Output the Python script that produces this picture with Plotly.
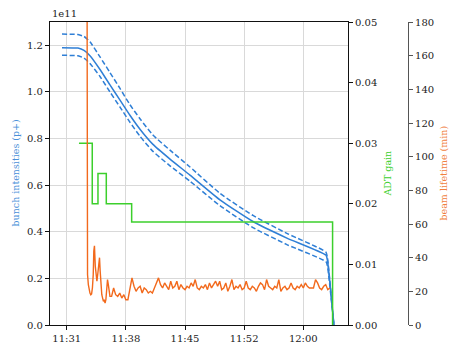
import plotly.graph_objects as go

# ---------------- data ----------------
# time in minutes after 11:00
tick_vals = [31, 38.25, 45.5, 52.75, 60]
tick_text = ["11:31", "11:38", "11:45", "11:52", "12:00"]

# bunch intensities (units of 1e11 p+)
int_t = [30.42, 32.38, 33.12, 33.85, 35.08, 36.30, 37.53, 38.75, 39.98, 41.57,
         43.66, 46.11, 49.78, 53.83, 57.99, 62.77, 62.95, 63.75]
int_mean = [1.19, 1.188, 1.178, 1.155, 1.096, 1.03, 0.965, 0.90, 0.84, 0.775,
            0.712, 0.643, 0.537, 0.444, 0.373, 0.30, 0.28, 0.0]
int_upper = [1.248, 1.246, 1.238, 1.215, 1.15, 1.083, 1.015, 0.945, 0.885, 0.815,
             0.75, 0.678, 0.565, 0.47, 0.393, 0.313, 0.29, 0.0]
int_lower = [1.157, 1.155, 1.145, 1.122, 1.066, 1.0, 0.935, 0.87, 0.81, 0.745,
             0.683, 0.617, 0.512, 0.418, 0.345, 0.272, 0.255, 0.0]

# ADT gain (step)
adt_t = [32.50, 34.13, 34.83, 35.85, 38.96, 63.59]
adt_gain = [0.03, 0.02, 0.025, 0.02, 0.017, 0.0]

# beam lifetime (min)
life_t_early = [33.36, 33.50, 33.55, 33.65, 33.75, 33.85, 33.95, 34.05, 34.15, 34.25,
                34.32, 34.40, 34.50, 34.60, 34.70, 34.80, 34.88, 34.95, 35.02, 35.10,
                35.20, 35.30, 35.40, 35.50, 35.60, 35.70, 35.80, 35.90, 36.00, 36.10,
                36.20, 36.30]
life_early = [600, 60, 30, 24, 20, 19, 18, 18.5, 22, 30,
              44, 47, 35, 28, 26, 30, 33, 38, 40, 32,
              22, 18, 16, 14, 15, 13, 15, 22, 27, 24,
              19, 17]
life_start = 36.5
life_step = 0.25
life_late = [17, 22, 18, 17, 19, 16, 18, 15, 15, 21,
             28, 23, 20, 22, 23, 19, 22, 21, 19, 20,
             19, 22, 25, 28, 24, 22, 25, 23, 21, 26,
             22, 23, 26, 21, 24, 22, 21, 23, 22, 25,
             23, 27, 22, 21, 23, 22, 24, 21, 25, 22,
             24, 26, 23, 26, 21, 22, 25, 20, 23, 27,
             21, 23, 22, 24, 21, 22, 26, 22, 21, 23,
             22, 20, 23, 25, 24, 21, 27, 23, 22, 21,
             23, 22, 27, 20, 22, 23, 21, 22, 25, 22,
             21, 23, 22, 24, 22, 25, 23, 22, 22, 22,
             27, 25, 22, 21, 23, 24, 21, 22]
life_t = life_t_early + [life_start + life_step * i for i in range(len(life_late))]
life = life_early + life_late

# ---------------- styles ----------------
BLUE = "#2f7fd6"
GREEN = "#3ccf2c"
ORANGE = "#f2691c"
FONT = "DejaVu Serif"

W, H = 474, 356
ml, mr, mt, mb = 50, 30, 22, 28
pw = W - ml - mr
dom_end = 298 / pw
pos3 = (408 - ml) / pw

fig = go.Figure()
for yy, dash in ((int_upper, "5px,2.5px"), (int_lower, "5px,2.5px"), (int_mean, "solid")):
    fig.add_trace(go.Scatter(x=int_t, y=yy, mode="lines",
                             line=dict(color=BLUE, width=1.5, dash=dash,
                                       shape="spline", smoothing=0.5),
                             yaxis="y"))
fig.add_trace(go.Scatter(x=adt_t, y=adt_gain, mode="lines", line_shape="hv",
                         line=dict(color=GREEN, width=1.5), yaxis="y2"))
fig.add_trace(go.Scatter(x=life_t, y=life, mode="lines",
                         line=dict(color=ORANGE, width=1.4), yaxis="y3"))

axfont = dict(family=FONT, size=10, color="#222")
fig.update_layout(
    width=W, height=H,
    margin=dict(l=ml, r=mr, t=mt, b=mb),
    paper_bgcolor="white", plot_bgcolor="white",
    showlegend=False,
    font=dict(family=FONT, size=10, color="#222"),
    xaxis=dict(domain=[0, dom_end], range=[28.95, 65.48],
               tickvals=tick_vals, ticktext=tick_text, tickfont=axfont,
               showgrid=True, gridcolor="#d9d9d9", gridwidth=1,
               showline=True, linecolor="#111", linewidth=1.2, mirror=True,
               ticks="outside", ticklen=4, tickcolor="#111", zeroline=False),
    yaxis=dict(range=[0, 1.3], dtick=0.2, tick0=0, tickformat=".1f", tickfont=axfont,
               showgrid=True, gridcolor="#d9d9d9", gridwidth=1,
               showline=True, linecolor="#111", linewidth=1.2, mirror=True,
               ticks="outside", ticklen=4, tickcolor="#111", zeroline=False),
    yaxis2=dict(overlaying="y", side="right", anchor="x", range=[0, 0.05],
                dtick=0.01, tick0=0, tickformat=".2f", tickfont=axfont,
                showgrid=False, showline=False, zeroline=False,
                ticks="outside", ticklen=4, tickcolor="#111"),
    yaxis3=dict(overlaying="y", side="right", anchor="free", position=pos3,
                range=[0, 180], dtick=20, tick0=0, tickfont=axfont,
                showgrid=False, showline=True, linecolor="#555", linewidth=1.2,
                zeroline=False, ticks="outside", ticklen=4, tickcolor="#555"),
    annotations=[
        dict(text="1e11", x=0, y=1, xref="paper", yref="paper", xanchor="left",
             yanchor="bottom", showarrow=False, yshift=1,
             font=dict(family=FONT, size=10, color="#222")),
        dict(text="bunch intensities (p+)", x=(15 - ml) / pw, y=0.5, xref="paper",
             yref="paper", textangle=-90, showarrow=False, xanchor="center",
             yanchor="middle", font=dict(family=FONT, size=9.5, color="#4a90d9")),
        dict(text="ADT gain", x=(387 - ml) / pw, y=0.5, xref="paper",
             yref="paper", textangle=-90, showarrow=False, xanchor="center",
             yanchor="middle", font=dict(family=FONT, size=9.5, color=GREEN)),
        dict(text="beam lifetime (min)", x=(443 - ml) / pw, y=0.5, xref="paper",
             yref="paper", textangle=-90, showarrow=False, xanchor="center",
             yanchor="middle", font=dict(family=FONT, size=9.5, color="#f08040")),
    ],
)

fig.write_html("out.html", config={"displayModeBar": False})

# remove the default browser body margin so the figure sits at the window origin
with open("out.html", "r", encoding="utf-8") as f:
    html = f.read()
html = html.replace("<body>", '<body style="margin:0;padding:0;">', 1)
with open("out.html", "w", encoding="utf-8") as f:
    f.write(html)
